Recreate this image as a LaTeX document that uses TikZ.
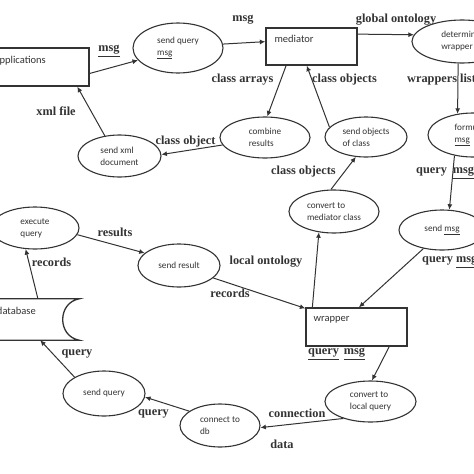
\documentclass[tikz,border=0pt]{standalone}
\usepackage{fontspec}
\setmainfont{Liberation Serif}
\newfontfamily\dfdsans{Carlito}
\usepackage{tikz}
\usetikzlibrary{shapes.geometric,arrows.meta}
\definecolor{ink}{HTML}{333333}
\newcommand\dfdlabel{\fontsize{12.3}{14}\selectfont\bfseries}
\newcommand\dfdproc{\dfdsans\fontsize{9.2}{12}\selectfont}
\newcommand\dfdbox{\dfdsans\fontsize{10.5}{12}\selectfont}

\begin{document}
\begin{tikzpicture}[x=1pt,y=-1pt,
    proc/.style={ellipse,draw=ink,line width=1.1pt,inner sep=0pt,font=\dfdproc,align=left,text=ink},
    store/.style={rectangle,draw=ink,line width=1.3pt,inner sep=0pt},
    boxname/.style={anchor=west,inner sep=0pt,font=\dfdbox,text=ink},
    flow/.style={draw=ink,line width=1pt,-{Latex[length=5.5pt,width=5pt]}},
    lbl/.style={inner sep=0pt,font=\dfdlabel,text=ink}]
    \useasboundingbox (0,0) rectangle (474,474);
    \fill[white] (0,0) rectangle (474,474);
    \clip (0,0) rectangle (474,474);
    \node[store,minimum width=104pt,minimum height=38pt] (apps) at (37,67) {};
    \node[boxname] (appsname) at ([shift={(9,13)}]apps.north west) {Applications};
    \node[store,minimum width=91pt,minimum height=37pt] (mediator) at (311.5,46.5) {};
    \node[boxname] (medname) at ([shift={(9,12)}]mediator.north west) {mediator};
    \node[store,minimum width=101pt,minimum height=38pt] (wrapper) at (356.5,327) {};
    \node[boxname] (wrapname) at ([shift={(8,12)}]wrapper.north west) {wrapper};
    \node[inner sep=0pt,minimum width=91pt,minimum height=41pt] (database) at (33.5,319.5) {};
    \draw[ink,line width=1.3pt] (database.north west) -- (database.north east)
        .. controls ([shift={(-22,4)}]database.north east) and ([shift={(-22,-4)}]database.south east) .. (database.south east)
        -- (database.south west);
    \node[boxname] (dbname) at ([shift={(9,12)}]database.north west) {database};
    \node[proc,minimum width=90pt,minimum height=50pt] (sendq) at (178,48) {send query\\\underline{msg}};
    \node[proc,minimum width=100pt,minimum height=43pt] (determine) at (462,41.5) {determine\\wrapper to};
    \node[proc,minimum width=90pt,minimum height=44pt] (formulate) at (473,135) {formulate\\\underline{msg}};
    \node[proc,minimum width=86pt,minimum height=40pt] (sendmsg) at (442,230) {send \underline{msg}};
    \node[proc,minimum width=90pt,minimum height=41pt] (combine) at (265,137.5) {combine\\results};
    \node[proc,minimum width=82pt,minimum height=40pt] (sendobj) at (366,137) {send objects\\of class};
    \node[proc,minimum width=83pt,minimum height=42pt] (sendxml) at (119.5,156) {send xml\\document};
    \node[proc,minimum width=90pt,minimum height=43pt] (convmed) at (334,211.5) {convert to\\mediator class};
    \node[proc,minimum width=88pt,minimum height=42pt] (execq) at (35,228) {execute\\query};
    \node[proc,minimum width=82pt,minimum height=43pt] (sendres) at (179,265.5) {send result};
    \node[proc,minimum width=91pt,minimum height=41pt] (convlocal) at (370.5,401.5) {convert to\\local query};
    \node[proc,minimum width=80pt,minimum height=43pt] (connect) at (220,425.5) {connect to\\db};
    \node[proc,minimum width=82pt,minimum height=45pt] (sendqb) at (104,393.5) {send query};
    \draw[flow] (apps.-7) -- (sendq.197);
    \draw[flow] (sendq.5) -- (mediator.174);
    \draw[flow] (mediator.15) -- (determine.172);
    \draw[flow] (determine.-100) -- (formulate.126);
    \draw[flow] (formulate.228) -- (sendmsg.70);
    \draw[flow] (sendmsg.225) -- (wrapper.83);
    \draw[flow] (wrapper.-31) -- (convlocal.86);
    \draw[flow] (convlocal.212) -- (connect.-3);
    \draw[flow] (connect.155) -- (sendqb.-5);
    \draw[flow] (sendqb.151) -- (database.-72);
    \draw[flow] (database.78) -- (execq.246);
    \draw[flow] (execq.-9) -- (sendres.160);
    \draw[flow] (sendres.-20) -- (wrapper.160);
    \draw[flow] (wrapper.156) -- (convmed.234);
    \draw[flow] (convmed.98) -- (sendobj.243);
    \draw[flow] (sendobj.165) -- (mediator.256);
    \draw[flow] (mediator.217) -- (combine.84);
    \draw[flow] (combine.190) -- (sendxml.2);
    \draw[flow] (sendxml.126) -- (apps.-26);
    \node[lbl] (msgapps) at (109,51) {\underline{msg}};
    \node[lbl] (msgmed) at (243,20) {msg};
    \node[lbl] (globont) at (396,20) {global ontology};
    \node[lbl,anchor=west] (wraplist) at (407,80) {wrappers list};
    \node[lbl] (clsarr) at (242.5,80) {class arrays};
    \node[lbl] (clsobjup) at (344.5,80) {class objects};
    \node[lbl] (xmlfile) at (56,111) {xml file};
    \node[lbl] (clsobj) at (185.5,142) {class object};
    \node[lbl] (clsobjlow) at (303.5,172) {class objects};
    \node[lbl,anchor=west] (qmsgform) at (416,173) {query\hspace{6pt}\underline{msg}};
    \node[lbl] (results) at (115,232) {results};
    \node[lbl] (recdb) at (51.5,262) {records};
    \node[lbl] (locont) at (266,262) {local ontology};
    \node[lbl,anchor=west] (qmsgsend) at (422,262) {query \underline{msg}};
    \node[lbl] (recwrap) at (230,293) {records};
    \node[lbl,anchor=west] (qmsgwrap) at (308,354) {\underline{query}\hspace{5pt}\underline{msg}};
    \node[lbl] (qdb) at (77,354) {query};
    \node[lbl] (qconn) at (153.5,414) {query};
    \node[lbl] (connection) at (297,413) {connection};
    \node[lbl] (data) at (282,444) {data};
\end{tikzpicture}
\end{document}
